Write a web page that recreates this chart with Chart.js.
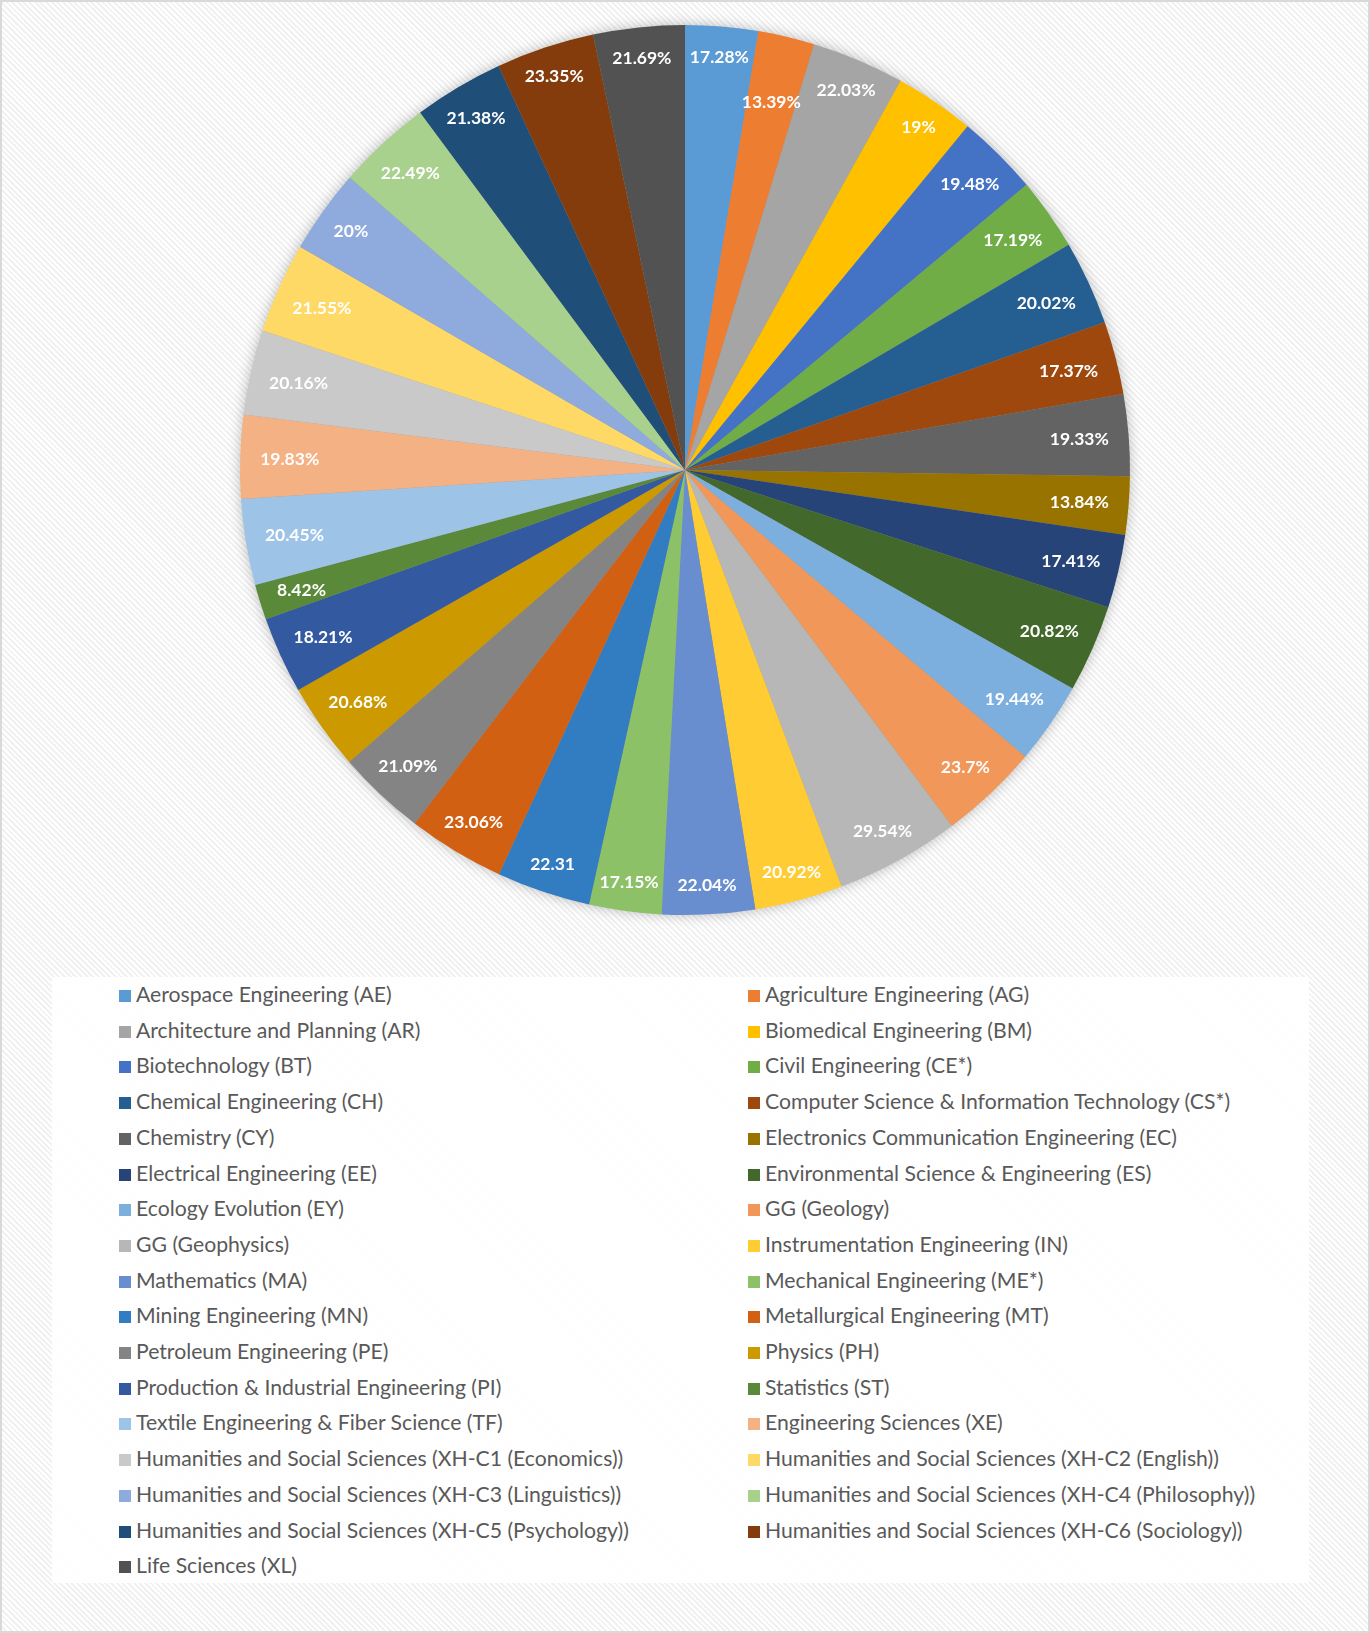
<!DOCTYPE html>
<html>
<head>
<meta charset="utf-8">
<script src="https://cdn.jsdelivr.net/npm/chart.js@4/dist/chart.umd.min.js"></script>
<style>
  html, body { margin:0; padding:0; }
  body { width:1370px; height:1633px; overflow:hidden; font-family:Lato, "Open Sans", sans-serif; }
  #frame {
    position:relative; width:1370px; height:1633px; box-sizing:border-box;
    border:2px solid #d9d9d9;
    background: repeating-linear-gradient(45deg, #ffffff 0 2px, #f1f1f1 2px 4px);
  }
  #pie-wrap { position:absolute; left:218px; top:3px; width:930px; height:930px; }
  #legend {
    position:absolute; left:50px; top:975px; width:1257px; height:606px;
    background:rgba(255,255,255,0.88);
  }
  .lg-item {
    position:absolute; height:36px; line-height:36px; white-space:nowrap;
    font-size:21.2px; color:#595959;
  }
  .lg-box { display:inline-block; width:12px; height:12px; margin-right:5px; vertical-align:0px; }
</style>
</head>
<body>
<div id="frame">
  <div id="pie-wrap"><canvas id="pie"></canvas></div>
  <div id="legend"></div>
</div>
<script>
/* ── DATA ──────────────────────────────── */
const LABELS = [
  "Aerospace Engineering (AE)", "Agriculture Engineering (AG)",
  "Architecture and Planning (AR)", "Biomedical Engineering (BM)",
  "Biotechnology (BT)", "Civil Engineering (CE*)",
  "Chemical Engineering (CH)", "Computer Science & Information Technology (CS*)",
  "Chemistry (CY)", "Electronics Communication Engineering (EC)",
  "Electrical Engineering (EE)", "Environmental Science & Engineering (ES)",
  "Ecology Evolution (EY)", "GG (Geology)",
  "GG (Geophysics)", "Instrumentation Engineering (IN)",
  "Mathematics (MA)", "Mechanical Engineering (ME*)",
  "Mining Engineering (MN)", "Metallurgical Engineering (MT)",
  "Petroleum Engineering (PE)", "Physics (PH)",
  "Production & Industrial Engineering (PI)", "Statistics (ST)",
  "Textile Engineering & Fiber Science (TF)", "Engineering Sciences (XE)",
  "Humanities and Social Sciences (XH-C1 (Economics))", "Humanities and Social Sciences (XH-C2 (English))",
  "Humanities and Social Sciences (XH-C3 (Linguistics))", "Humanities and Social Sciences (XH-C4 (Philosophy))",
  "Humanities and Social Sciences (XH-C5 (Psychology))", "Humanities and Social Sciences (XH-C6 (Sociology))",
  "Life Sciences (XL)"
];

const VALUES = [
  17.28, 13.39, 22.03, 19, 19.48, 17.19, 20.02, 17.37, 19.33, 13.84, 17.41,
  20.82, 19.44, 23.7, 29.54, 20.92, 22.04, 17.15, 22.31, 23.06, 21.09, 20.68,
  18.21, 8.42, 20.45, 19.83, 20.16, 21.55, 20, 22.49, 21.38, 23.35, 21.69
];

// text shown on each slice (MN has no % sign in the original)
const SLICE_TEXT = [
  "17.28%", "13.39%", "22.03%", "19%", "19.48%", "17.19%", "20.02%", "17.37%",
  "19.33%", "13.84%", "17.41%", "20.82%", "19.44%", "23.7%", "29.54%", "20.92%",
  "22.04%", "17.15%", "22.31", "23.06%", "21.09%", "20.68%", "18.21%", "8.42%",
  "20.45%", "19.83%", "20.16%", "21.55%", "20%", "22.49%", "21.38%", "23.35%", "21.69%"
];

const COLORS = [
  "#5B9BD5", "#ED7D31", "#A5A5A5", "#FFC000", "#4472C4", "#70AD47",
  "#255E91", "#9E480E", "#636363", "#997300", "#264478", "#43682B",
  "#7CAFDD", "#F1975A", "#B7B7B7", "#FFCD33", "#698ED0", "#8CC168",
  "#327DC2", "#D26012", "#848484", "#CC9A00", "#335AA1", "#5A8A39",
  "#9DC3E6", "#F4B183", "#C9C9C9", "#FFD966", "#8FAADC", "#A9D18E",
  "#1F4E79", "#843C0C", "#525252"
];

/* ── PLUGINS ───────────────────────────── */
// soft shadow under the whole pie
const pieShadow = {
  id: 'pieShadow',
  beforeDatasetsDraw(chart) {
    const arc = chart.getDatasetMeta(0).data[0];
    if (!arc) return;
    const ctx = chart.ctx;
    ctx.save();
    ctx.shadowColor = 'rgba(0,0,0,0.30)';
    ctx.shadowBlur = 14;
    ctx.fillStyle = '#999';
    ctx.beginPath();
    ctx.arc(arc.x, arc.y, arc.outerRadius - 1, 0, Math.PI * 2);
    ctx.fill();
    ctx.restore();
  }
};

// "inside end" labels; bigger slices placed first, small ones pushed inward on clash
const sliceLabels = {
  id: 'sliceLabels',
  afterDatasetsDraw(chart) {
    const ctx = chart.ctx;
    const arcs = chart.getDatasetMeta(0).data;
    const ds = chart.data.datasets[0];
    const texts = ds.sliceText;
    const H = 20, PAD = 20, GAP_X = 12, GAP_Y = 25;
    const placed = [];
    ctx.save();
    ctx.font = 'bold 17.5px Lato, "Open Sans", sans-serif';
    ctx.fillStyle = '#ffffff';
    ctx.textAlign = 'center';
    ctx.textBaseline = 'middle';
    const order = arcs.map((a, i) => i).sort((a, b) => ds.data[b] - ds.data[a]);
    order.forEach(i => {
      const arc = arcs[i];
      const txt = texts[i];
      const w = ctx.measureText(txt).width;
      const mid = (arc.startAngle + arc.endAngle) / 2;
      const c = Math.cos(mid), s = Math.sin(mid);
      let d = arc.outerRadius - PAD - Math.max(Math.abs(c) * w / 2, Math.abs(s) * H / 2);
      const hits = (x, y) => placed.some(b =>
        Math.abs(b.x - x) < (b.w + w) / 2 + GAP_X && Math.abs(b.y - y) < H + GAP_Y);
      while (d > arc.outerRadius * 0.5 && hits(arc.x + c * d, arc.y + s * d)) d -= 1;
      const x = arc.x + c * d, y = arc.y + s * d;
      placed.push({ x, y, w });
      ctx.fillText(txt, x, y + 1);
    });
    ctx.restore();
  }
};

/* ── CHART ─────────────────────────────── */
const chart = new Chart(document.getElementById('pie'), {
  type: 'pie',
  data: {
    labels: LABELS,
    datasets: [{
      data: VALUES,
      sliceText: SLICE_TEXT,
      backgroundColor: COLORS,
      borderWidth: 0,
      hoverOffset: 0,
    }]
  },
  options: {
    responsive: true,
    maintainAspectRatio: false,
    animation: false,
    layout: { padding: 20 },
    plugins: {
      legend: { display: false },
      tooltip: { enabled: false }
    }
  },
  plugins: [pieShadow, sliceLabels]
});

/* ── LEGEND (two columns, row-major like Excel) ── */
function buildLegend() {
  const box = document.getElementById('legend');
  const ds = chart.data.datasets[0];
  box.innerHTML = chart.data.labels.map((lab, i) => {
    const col = i % 2, row = Math.floor(i / 2);
    const left = col === 0 ? 67 : 696;
    const top = -1 + row * 35.7;
    return `<div class="lg-item" style="left:${left}px;top:${top}px">` +
      `<span class="lg-box" style="background:${ds.backgroundColor[i]}"></span>${lab}</div>`;
  }).join('');
}
buildLegend();
</script>
</body>
</html>
